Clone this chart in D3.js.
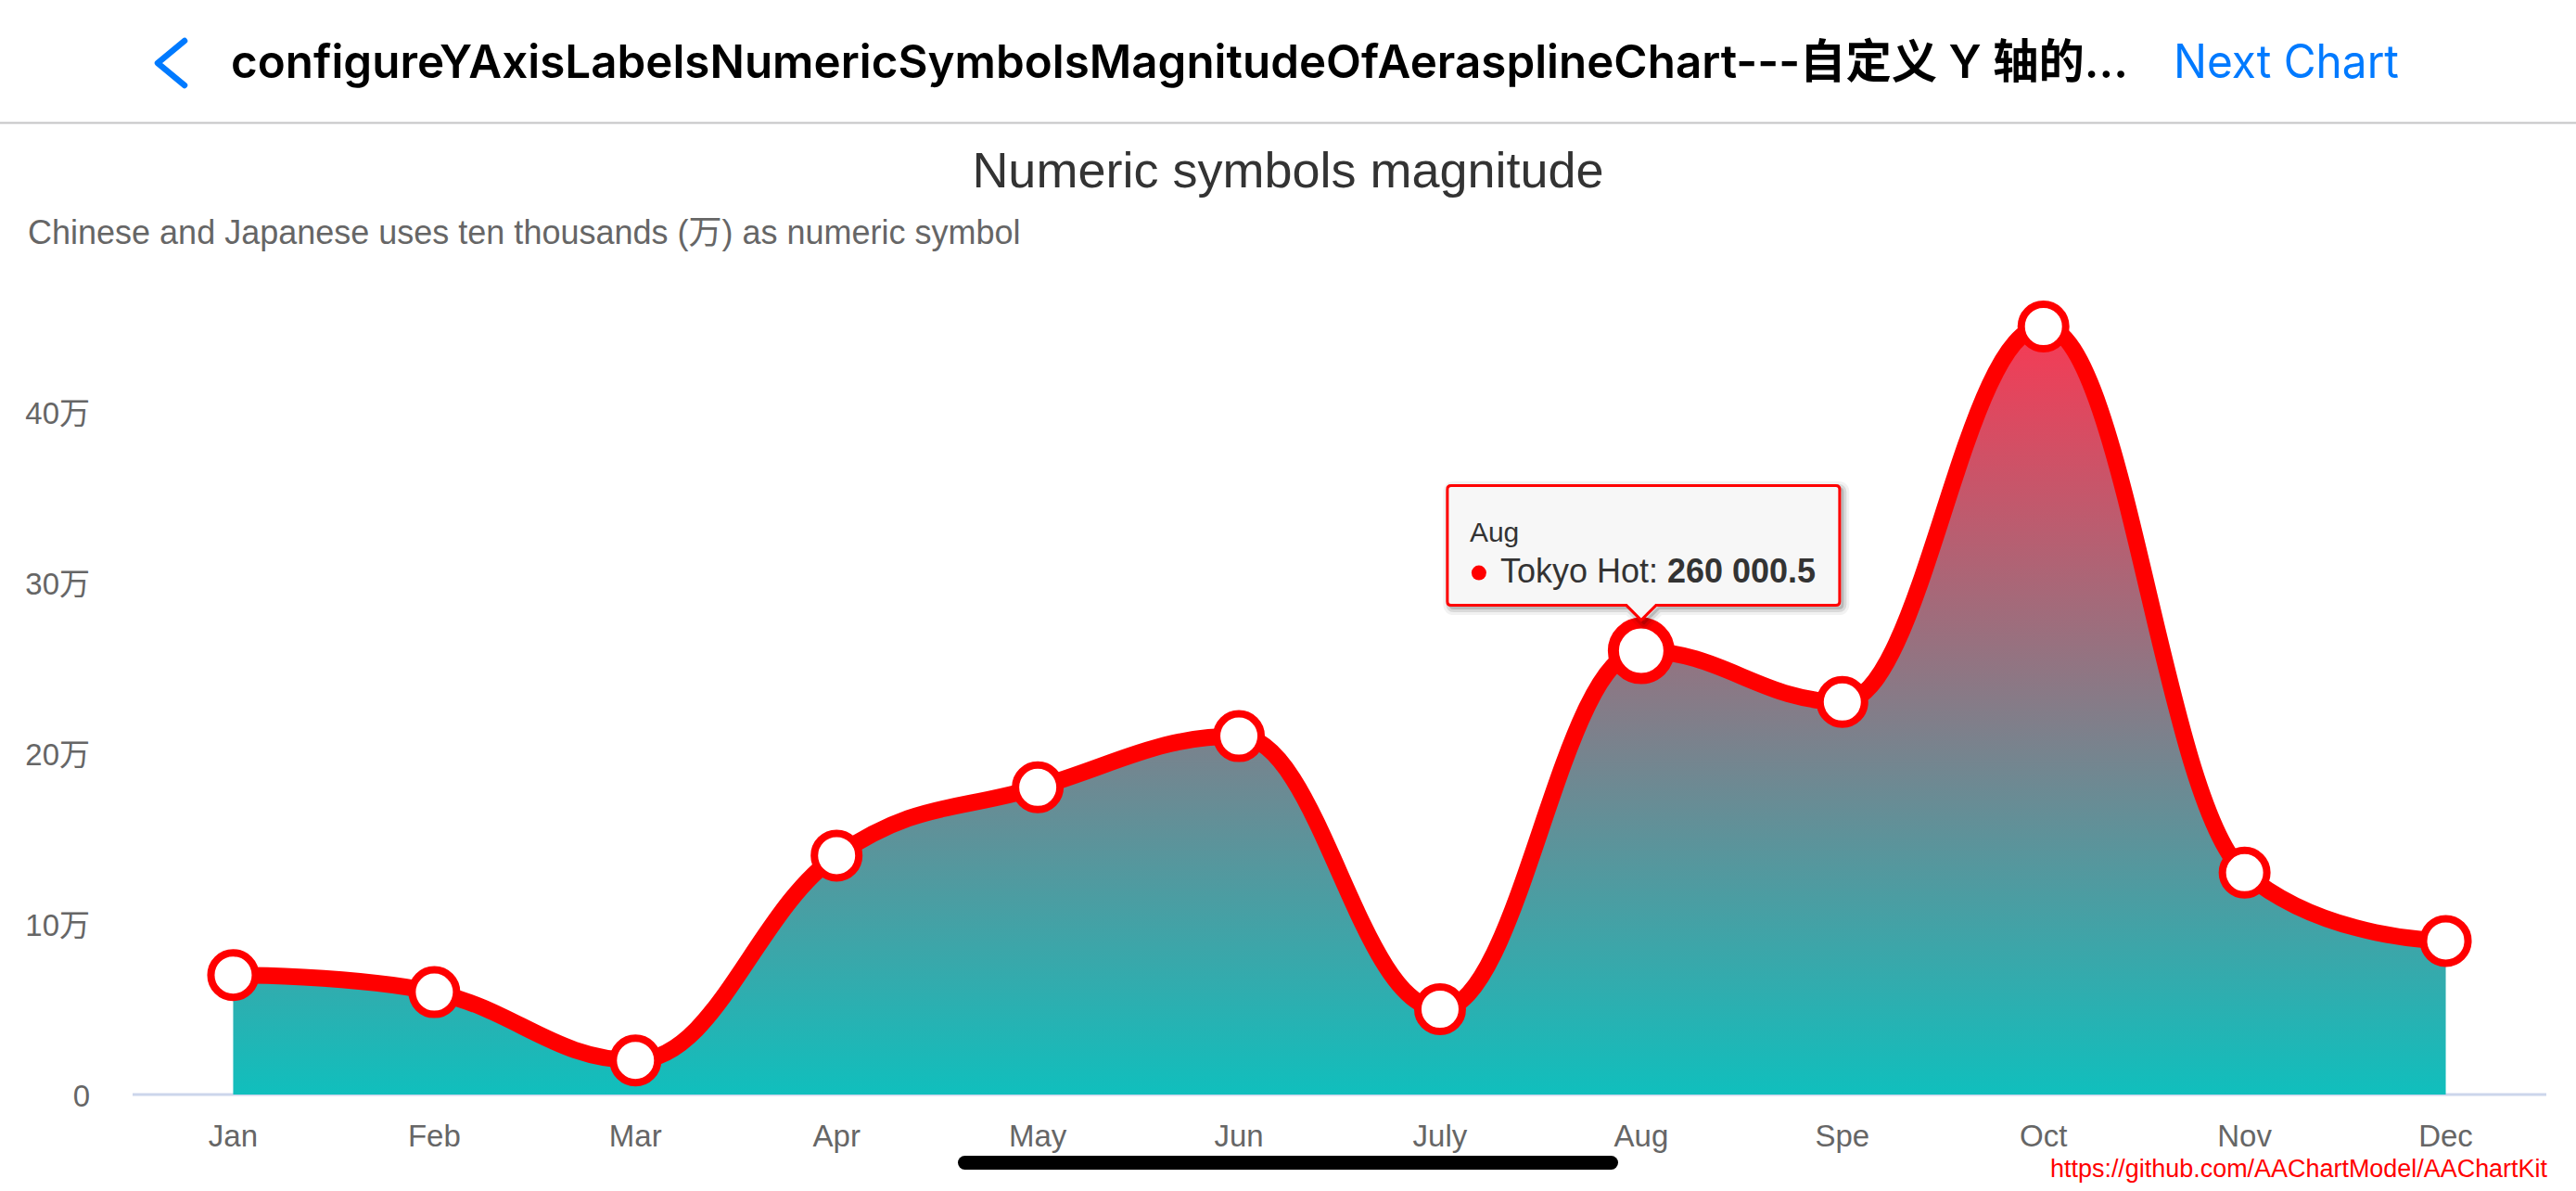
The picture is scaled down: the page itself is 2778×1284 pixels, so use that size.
<!DOCTYPE html>
<html>
<head>
<meta charset="utf-8">
<script src="https://cdn.jsdelivr.net/npm/d3@7/dist/d3.min.js"></script>
<style>
  html, body { margin: 0; padding: 0; background: #ffffff; }
  svg { display: block; }
</style>
</head>
<body>
<svg id="chart" width="2778" height="1284"></svg>
<script>
// ---------- data ----------
const navTitle = "configureYAxisLabelsNumericSymbolsMagnitudeOfAerasplineChart---自定义 Y 轴的...";
const navNext = "Next Chart";
const chartTitle = "Numeric symbols magnitude";
const chartSubtitle = "Chinese and Japanese uses ten thousands (万) as numeric symbol";
const seriesName = "Tokyo Hot";
const categories = ["Jan","Feb","Mar","Apr","May","Jun","July","Aug","Spe","Oct","Nov","Dec"];
const values = [70000.5, 60000.5, 20000.5, 140000.5, 180000.5, 210000.5, 50000.5, 260000.5, 230000.5, 450000.5, 130000.5, 90000.5];
const yTickValues = [0, 100000, 200000, 300000, 400000];
const yTickLabels = ["0", "10万", "20万", "30万", "40万"];
const yDomain = [0, 500000];
const hoverIndex = 7;
const creditText = "https://github.com/AAChartModel/AAChartKit";

// ---------- layout ----------
const W = 2778, H = 1284;
const plot = { left: 143, right: 2746, top: 260, bottom: 1180 };
const svg = d3.select("#chart");
const latin = "'Liberation Sans', Arial, Helvetica, 'Noto Sans CJK SC', sans-serif";

// ---------- nav bar ----------
svg.append("path")
  .attr("d", d3.line()([[199, 44], [170, 68], [199, 92]]))
  .attr("fill", "none").attr("stroke", "#007AFF").attr("stroke-width", 6.5)
  .attr("stroke-linecap", "round").attr("stroke-linejoin", "round");
svg.append("text")
  .attr("x", 249).attr("y", 84)
  .attr("font-family", "Inter, 'Noto Sans CJK SC', sans-serif")
  .attr("font-weight", 600).attr("font-size", 50).attr("fill", "#000")
  .attr("textLength", 2046).attr("lengthAdjust", "spacingAndGlyphs")
  .text(navTitle);
svg.append("text")
  .attr("x", 2344).attr("y", 84)
  .attr("font-family", "Inter, sans-serif")
  .attr("font-size", 50).attr("fill", "#007AFF")
  .attr("textLength", 243).attr("lengthAdjust", "spacingAndGlyphs")
  .text(navNext);
svg.append("line")
  .attr("x1", 0).attr("x2", W).attr("y1", 132.5).attr("y2", 132.5)
  .attr("stroke", "#c4c4c6").attr("stroke-width", 2);

// ---------- titles ----------
svg.append("text")
  .attr("x", W / 2).attr("y", 202).attr("text-anchor", "middle")
  .attr("font-family", latin).attr("font-size", 54).attr("fill", "#333333")
  .text(chartTitle);
svg.append("text")
  .attr("x", 30).attr("y", 263)
  .attr("font-family", latin).attr("font-size", 36).attr("fill", "#666666")
  .text(chartSubtitle);

// ---------- scales ----------
const x = d3.scalePoint().domain(categories).range([plot.left, plot.right]).padding(0.5);
const y = d3.scaleLinear().domain(yDomain).range([plot.bottom, plot.top]);

// ---------- Highcharts-like spline curve ----------
function HCSpline(context) { this._context = context; }
HCSpline.prototype = {
  areaStart() { this._line = 0; },
  areaEnd() { this._line = NaN; },
  lineStart() { this._xs = []; this._ys = []; },
  point(px, py) { this._xs.push(+px); this._ys.push(+py); },
  lineEnd() {
    const xs = this._xs, ys = this._ys, n = xs.length, c = this._context;
    if (n) {
      this._line ? c.lineTo(xs[0], ys[0]) : c.moveTo(xs[0], ys[0]);
      const L = [], R = [], s = 1.5, den = s + 1;
      for (let i = 0; i < n; i++) {
        if (i === 0 || i === n - 1) { L[i] = [xs[i], ys[i]]; R[i] = [xs[i], ys[i]]; continue; }
        const px = xs[i], py = ys[i], lx = xs[i - 1], ly = ys[i - 1], nx = xs[i + 1], ny = ys[i + 1];
        let lcx = (s * px + lx) / den, lcy = (s * py + ly) / den;
        let rcx = (s * px + nx) / den, rcy = (s * py + ny) / den;
        if (rcx !== lcx) {
          const corr = ((rcy - lcy) * (rcx - px)) / (rcx - lcx) + py - rcy;
          lcy += corr; rcy += corr;
        }
        if (lcy > ly && lcy > py) { lcy = Math.max(ly, py); rcy = 2 * py - lcy; }
        else if (lcy < ly && lcy < py) { lcy = Math.min(ly, py); rcy = 2 * py - lcy; }
        if (rcy > ny && rcy > py) { rcy = Math.max(ny, py); lcy = 2 * py - rcy; }
        else if (rcy < ny && rcy < py) { rcy = Math.min(ny, py); lcy = 2 * py - rcy; }
        L[i] = [lcx, lcy]; R[i] = [rcx, rcy];
      }
      for (let i = 1; i < n; i++) {
        c.bezierCurveTo(R[i - 1][0], R[i - 1][1], L[i][0], L[i][1], xs[i], ys[i]);
      }
    }
    if (this._line || (this._line !== 0 && n === 1)) c.closePath();
    this._line = 1 - this._line;
  }
};
const curveHC = ctx => new HCSpline(ctx);

// ---------- gradient ----------
const defs = svg.append("defs");
const grad = defs.append("linearGradient").attr("id", "areaGrad")
  .attr("x1", 0).attr("y1", 0).attr("x2", 0).attr("y2", 1);
grad.append("stop").attr("offset", 0).attr("stop-color", "#F73A54");
grad.append("stop").attr("offset", 1).attr("stop-color", "#10BFBD");

// ---------- axes ----------
svg.append("line")
  .attr("x1", plot.left).attr("x2", plot.right)
  .attr("y1", plot.bottom).attr("y2", plot.bottom)
  .attr("stroke", "#ccd6eb").attr("stroke-width", 3);

svg.append("g").selectAll("text").data(categories).join("text")
  .attr("x", d => x(d)).attr("y", 1236).attr("text-anchor", "middle")
  .attr("font-family", latin).attr("font-size", 33).attr("fill", "#666666")
  .text(d => d);

svg.append("g").selectAll("text").data(yTickValues).join("text")
  .attr("x", 97).attr("y", d => y(d) + 13).attr("text-anchor", "end")
  .attr("font-family", latin).attr("font-size", 33).attr("fill", "#666666")
  .text((d, i) => yTickLabels[i]);

// ---------- series ----------
const pts = categories.map((c, i) => ({ c, v: values[i] }));
const area = d3.area().x(d => x(d.c)).y0(y(0)).y1(d => y(d.v)).curve(curveHC);
const line = d3.line().x(d => x(d.c)).y(d => y(d.v)).curve(curveHC);

svg.append("path").attr("d", area(pts)).attr("fill", "url(#areaGrad)");
svg.append("path").attr("d", line(pts)).attr("fill", "none")
  .attr("stroke", "#FF0000").attr("stroke-width", 18)
  .attr("stroke-linejoin", "round").attr("stroke-linecap", "round");

svg.append("g").selectAll("circle").data(pts).join("circle")
  .attr("cx", d => x(d.c)).attr("cy", d => y(d.v))
  .attr("r", (d, i) => i === hoverIndex ? 30 : 24)
  .attr("fill", "#ffffff").attr("stroke", "#FF0000")
  .attr("stroke-width", (d, i) => i === hoverIndex ? 12 : 8);

// ---------- tooltip ----------
const hp = pts[hoverIndex];
const ax = x(hp.c), ay = y(hp.v) - 33;
const bw = 423, bh = 129, bl = ax - 209, bb = ay - 16, bt = bb - bh, r = 4, aw = 16;
function callout() {
  const p = d3.path();
  p.moveTo(bl + r, bt);
  p.lineTo(bl + bw - r, bt);
  p.quadraticCurveTo(bl + bw, bt, bl + bw, bt + r);
  p.lineTo(bl + bw, bb - r);
  p.quadraticCurveTo(bl + bw, bb, bl + bw - r, bb);
  p.lineTo(ax + aw, bb);
  p.lineTo(ax, ay);
  p.lineTo(ax - aw, bb);
  p.lineTo(bl + r, bb);
  p.quadraticCurveTo(bl, bb, bl, bb - r);
  p.lineTo(bl, bt + r);
  p.quadraticCurveTo(bl, bt, bl + r, bt);
  p.closePath();
  return p.toString();
}
const tip = svg.append("g");
[[15, 0.05], [9, 0.1], [3, 0.15]].forEach(([w, o]) => {
  tip.append("path").attr("d", callout()).attr("transform", "translate(3,3)")
    .attr("fill", "none").attr("stroke", "#000").attr("stroke-opacity", o)
    .attr("stroke-width", w).attr("stroke-linejoin", "round");
});
tip.append("path").attr("d", callout())
  .attr("fill", "#f7f7f7").attr("stroke", "#FF0000").attr("stroke-width", 3);
tip.append("text").attr("x", bl + 24).attr("y", bt + 60)
  .attr("font-family", latin).attr("font-size", 30).attr("fill", "#333333")
  .text(hp.c);
tip.append("circle").attr("cx", bl + 34).attr("cy", bt + 94).attr("r", 8).attr("fill", "#FF0000");
const fmt = v => {
  const [ip, fp] = String(v).split(".");
  return ip.replace(/\B(?=(\d{3})+(?!\d))/g, " ") + (fp ? "." + fp : "");
};
const t2 = tip.append("text").attr("x", bl + 57).attr("y", bt + 104)
  .attr("font-family", latin).attr("font-size", 36).attr("fill", "#333333");
t2.append("tspan").text(seriesName + ": ");
t2.append("tspan").attr("font-weight", "bold").text(fmt(hp.v));

// ---------- credit & home indicator ----------
svg.append("text").attr("x", 2211).attr("y", 1269)
  .attr("font-family", latin).attr("font-size", 27).attr("fill", "#FF0000")
  .attr("textLength", 536).attr("lengthAdjust", "spacingAndGlyphs")
  .text(creditText);
svg.append("rect").attr("x", 1033).attr("y", 1246).attr("width", 712).attr("height", 15)
  .attr("rx", 7.5).attr("fill", "#000");
</script>
</body>
</html>
